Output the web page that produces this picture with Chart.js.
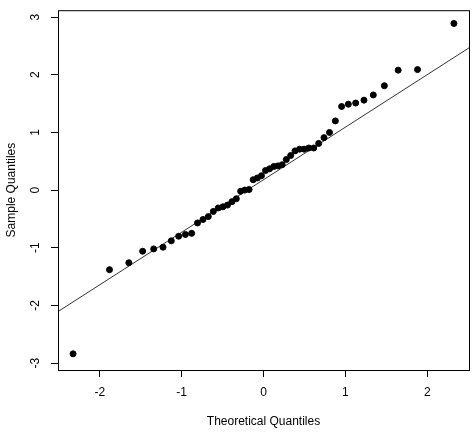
<!DOCTYPE html>
<html>
<head>
<meta charset="utf-8">
<script src="https://cdn.jsdelivr.net/npm/chart.js@4"></script>
<style>
  body { margin: 0; background: #fff; }
  #wrap { width: 474px; height: 433px; }
</style>
</head>
<body>
<div id="wrap"><canvas id="qq"></canvas></div>
<script>
// theoretical normal quantiles, n = 50
const theoretical = [
  -2.326, -1.881, -1.645, -1.476, -1.341, -1.227, -1.126, -1.036, -0.954, -0.878,
  -0.806, -0.739, -0.674, -0.613, -0.553, -0.496, -0.440, -0.385, -0.332, -0.279,
  -0.228, -0.176, -0.126, -0.075, -0.025, 0.025, 0.075, 0.126, 0.176, 0.228,
  0.279, 0.332, 0.385, 0.440, 0.496, 0.553, 0.613, 0.674, 0.739, 0.806,
  0.878, 0.954, 1.036, 1.126, 1.227, 1.341, 1.476, 1.645, 1.881, 2.326
];
// sample quantiles
const sample = [
  -2.84, -1.38, -1.26, -1.06, -1.02, -0.99, -0.88, -0.80, -0.77, -0.75,
  -0.57, -0.51, -0.46, -0.37, -0.31, -0.29, -0.26, -0.20, -0.15, -0.02,
  0.00, 0.01, 0.18, 0.21, 0.25, 0.34, 0.37, 0.41, 0.42, 0.44,
  0.53, 0.60, 0.68, 0.71, 0.71, 0.73, 0.73, 0.81, 0.91, 1.00,
  1.20, 1.45, 1.49, 1.51, 1.56, 1.65, 1.81, 2.08, 2.09, 2.89
];
// reference line endpoints (qqline)
const lineX = [-2.7, 2.7];
const lineY = [-2.28, 2.64];
const xTicks = [-2, -1, 0, 1, 2];
const yTicks = [-3, -2, -1, 0, 1, 2, 3];

const font = { family: 'Liberation Sans, Arial, sans-serif', size: 12 };

// R-style box and rotated y labels
const rStyle = {
  id: 'rStyle',
  afterDraw(chart) {
    const { ctx, chartArea: a, scales } = chart;
    ctx.save();
    ctx.strokeStyle = '#000';
    ctx.lineWidth = 1;
    ctx.strokeRect(a.left + 0.5, a.top + 0.5, a.right - a.left, a.bottom - a.top);
    ctx.fillStyle = '#000';
    ctx.font = `${font.size}px ${font.family}`;
    ctx.textAlign = 'center';
    ctx.textBaseline = 'middle';
    yTicks.forEach(v => {
      const y = scales.y.getPixelForValue(v);
      ctx.save();
      ctx.translate(a.left - 22, y);
      ctx.rotate(-Math.PI / 2);
      ctx.fillText(String(v), 0, 0);
      ctx.restore();
    });
    ctx.restore();
  }
};

new Chart(document.getElementById('qq'), {
  type: 'scatter',
  data: {
    datasets: [
      {
        data: theoretical.map((x, i) => ({ x: x, y: sample[i] })),
        backgroundColor: '#000',
        borderColor: '#000',
        pointRadius: 3,
        pointHoverRadius: 3
      },
      {
        type: 'line',
        data: lineX.map((x, i) => ({ x: x, y: lineY[i] })),
        borderColor: '#333',
        borderWidth: 1,
        pointRadius: 0,
        fill: false
      }
    ]
  },
  options: {
    responsive: true,
    maintainAspectRatio: false,
    animation: false,
    layout: { padding: { top: 3, right: 5, left: 0, bottom: 0 } },
    plugins: { legend: { display: false }, tooltip: { enabled: false } },
    scales: {
      x: {
        type: 'linear',
        min: -2.51,
        max: 2.51,
        afterBuildTicks: s => { s.ticks = xTicks.map(v => ({ value: v })); },
        afterFit: s => { s.height = 63; },
        grid: { drawOnChartArea: false, drawTicks: true, tickLength: 7, color: '#000' },
        border: { display: false },
        ticks: { color: '#000', font: font, padding: 8 },
        title: { display: true, text: 'Theoretical Quantiles', color: '#000', font: font, padding: { top: 12 } }
      },
      y: {
        type: 'linear',
        min: -3.12,
        max: 3.12,
        afterBuildTicks: s => { s.ticks = yTicks.map(v => ({ value: v })); },
        afterFit: s => { s.width = 58; },
        grid: { drawOnChartArea: false, drawTicks: true, tickLength: 7, color: '#000' },
        border: { display: false },
        ticks: { color: 'rgba(0,0,0,0)', font: font },
        title: { display: true, text: 'Sample Quantiles', color: '#000', font: font, padding: { bottom: 0 } }
      }
    }
  },
  plugins: [rStyle]
});
</script>
</body>
</html>
